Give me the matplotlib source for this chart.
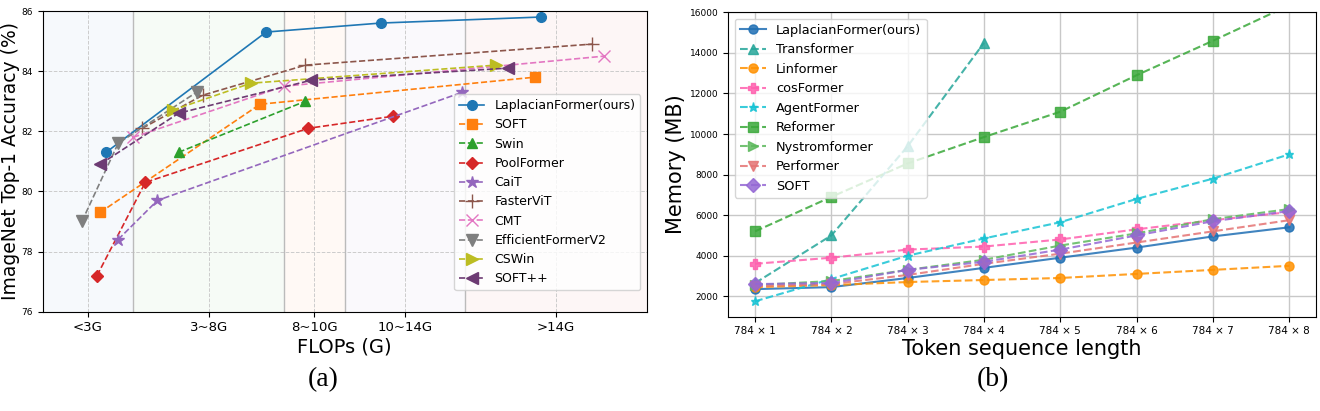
import numpy as np
from matplotlib import pyplot as plt

# ---- panel (a): accuracy vs FLOPs ----
flops_ticks = [1.5, 5.5, 9.0, 12.0, 17.0]
flops_labels = ["<3G", "3~8G", "8~10G", "10~14G", ">14G"]
flops_bounds = [0, 3, 8, 10, 14, 20]
band_colors = ["tab:blue", "tab:green", "tab:orange", "tab:purple", "tab:red"]

laplacian_x = [2.1, 7.4, 11.2, 16.5]
laplacian_y = [81.3, 85.3, 85.6, 85.8]
soft_x = [1.9, 7.2, 16.3]
soft_y = [79.3, 82.9, 83.8]
swin_x = [4.5, 8.7]
swin_y = [81.3, 83.0]
pool_x = [1.8, 3.4, 8.8, 11.6]
pool_y = [77.2, 80.3, 82.1, 82.5]
cait_x = [2.5, 3.8, 13.9]
cait_y = [78.4, 79.7, 83.3]
faster_x = [3.3, 5.3, 8.7, 18.2]
faster_y = [82.1, 83.2, 84.2, 84.9]
cmt_x = [3.0, 8.0, 18.6]
cmt_y = [81.8, 83.5, 84.5]
effv2_x = [1.3, 2.5, 5.1]
effv2_y = [79.0, 81.6, 83.3]
cswin_x = [4.3, 6.9, 15.0]
cswin_y = [82.7, 83.6, 84.2]
softpp_x = [1.9, 4.5, 8.9, 15.4]
softpp_y = [80.9, 82.6, 83.7, 84.1]

# ---- panel (b): memory vs sequence length ----
seq_mult = [1, 2, 3, 4, 5, 6, 7, 8]
seq_labels = ["784 × %d" % m for m in seq_mult]
mem_laplacian = [2350, 2450, 2900, 3400, 3900, 4400, 4950, 5400]
mem_transformer = [2650, 5000, 9400, 14500]
mem_linformer = [2450, 2550, 2700, 2800, 2900, 3100, 3300, 3500]
mem_cosformer = [3600, 3900, 4300, 4450, 4800, 5300, 5750, 6150]
mem_agent = [1750, 2850, 4000, 4850, 5650, 6800, 7800, 9000]
mem_reformer = [5200, 6900, 8550, 9850, 11100, 12900, 14600, 16350]
mem_nystrom = [2550, 2750, 3300, 3800, 4500, 5100, 5800, 6300]
mem_performer = [2500, 2600, 3050, 3600, 4100, 4650, 5200, 5750]
mem_soft = [2600, 2650, 3300, 3700, 4300, 5000, 5700, 6200]

fig = plt.figure(figsize=(13.2, 4.11), dpi=100)

# left panel
ax1 = fig.add_axes([0.0323, 0.2416, 0.4576, 0.7316])
for i in range(len(band_colors)):
    ax1.axvspan(flops_bounds[i], flops_bounds[i+1], color=band_colors[i], alpha=0.04, lw=0)
for b in flops_bounds[1:-1]:
    ax1.axvline(b, color="#bbbbbb", lw=1.0)

kw = dict(lw=1.2, ms=7)
ax1.plot(laplacian_x, laplacian_y, "o-", color="tab:blue", label="LaplacianFormer(ours)", **kw)
ax1.plot(soft_x, soft_y, "s--", color="tab:orange", label="SOFT", **kw)
ax1.plot(swin_x, swin_y, "^--", color="tab:green", label="Swin", **kw)
ax1.plot(pool_x, pool_y, "D--", color="tab:red", label="PoolFormer", lw=1.2, ms=6)
ax1.plot(cait_x, cait_y, "*--", color="tab:purple", label="CaiT", lw=1.2, ms=9)
ax1.plot(faster_x, faster_y, "+--", color="tab:brown", label="FasterViT", lw=1.2, ms=10)
ax1.plot(cmt_x, cmt_y, "x--", color="tab:pink", label="CMT", lw=1.2, ms=9)
ax1.plot(effv2_x, effv2_y, "v--", color="tab:gray", label="EfficientFormerV2", lw=1.2, ms=8)
ax1.plot(cswin_x, cswin_y, ">--", color="tab:olive", label="CSWin", lw=1.2, ms=8)
ax1.plot(softpp_x, softpp_y, "<--", color="#6d3b73", label="SOFT++", lw=1.2, ms=8)

ax1.set_xlim(0, 20)
ax1.set_ylim(76, 86)
ax1.set_xticks(flops_ticks)
ax1.set_xticklabels(flops_labels, fontsize=9.5)
ax1.set_yticks([76, 78, 80, 82, 84, 86])
ax1.tick_params(axis="y", labelsize=6.5)
ax1.grid(True, ls="--", color="#cccccc", lw=0.7)
ax1.set_xlabel("FLOPs (G)", fontsize=14, labelpad=2)
ax1.set_ylabel("ImageNet Top-1 Accuracy (%)", fontsize=13.5, labelpad=1)
ax1.legend(loc="lower right", bbox_to_anchor=(1.0, 0.05), fontsize=9)

# right panel
ax2 = fig.add_axes([0.5518, 0.2299, 0.4452, 0.7401])
kw2 = dict(lw=1.5, ms=6.5, alpha=0.85)
ax2.plot(seq_mult, mem_laplacian, "o-", color="#1f6fb4", label="LaplacianFormer(ours)", **kw2)
ax2.plot(seq_mult[:len(mem_transformer)], mem_transformer, "^--", color="#26a69a", label="Transformer", **kw2)
ax2.plot(seq_mult, mem_linformer, "o--", color="#ff9100", label="Linformer", **kw2)
ax2.plot(seq_mult, mem_cosformer, "P--", color="#ff5fae", label="cosFormer", **kw2)
ax2.plot(seq_mult, mem_agent, "*--", color="#17c3d4", label="AgentFormer", **kw2)
ax2.plot(seq_mult, mem_reformer, "s--", color="#3aa83a", label="Reformer", **kw2)
ax2.plot(seq_mult, mem_nystrom, ">--", color="#5cb85c", label="Nystromformer", **kw2)
ax2.plot(seq_mult, mem_performer, "v--", color="#e57373", label="Performer", **kw2)
ax2.plot(seq_mult, mem_soft, "D--", color="#9467d4", label="SOFT", lw=1.5, ms=7.5, alpha=0.85)

ax2.set_ylim(1000, 16000)
ax2.set_xticks(seq_mult)
ax2.set_xticklabels(seq_labels, fontsize=7.5)
ax2.set_yticks(np.arange(2000, 16001, 2000))
ax2.tick_params(axis="y", labelsize=6.5)
ax2.grid(True, color="#c8c8c8", lw=1.0)
ax2.set_xlabel("Token sequence length", fontsize=15, labelpad=2)
ax2.set_ylabel("Memory (MB)", fontsize=15, labelpad=3)
ax2.legend(loc="upper left", fontsize=9.3)

fig.text(0.245, 0.06, "(a)", fontsize=20, family="Liberation Serif", ha="center")
fig.text(0.752, 0.06, "(b)", fontsize=20, family="Liberation Serif", ha="center")

fig.savefig("out.png", dpi=100)
